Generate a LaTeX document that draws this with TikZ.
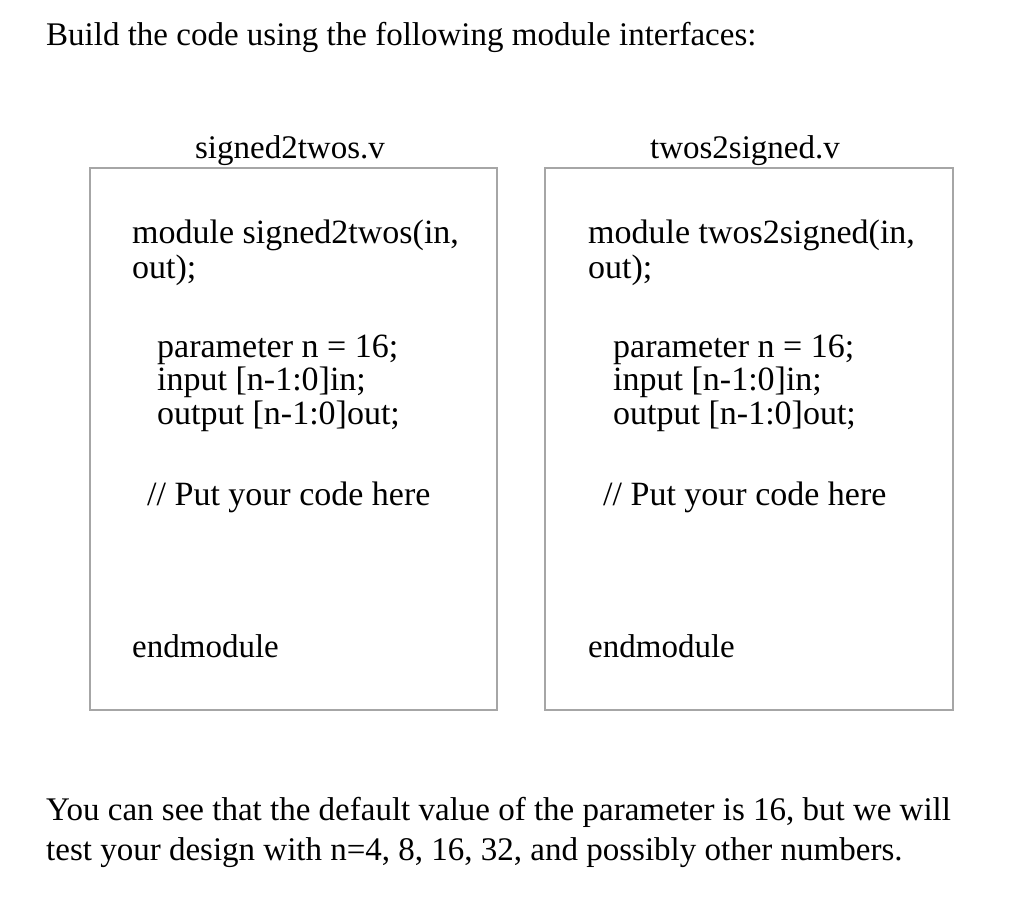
\documentclass[tikz,border=0pt]{standalone}
\usepackage{fontspec}
\setmainfont{Liberation Serif}
\begin{document}
\begin{tikzpicture}[x=1pt,y=-1pt,
 t/.style={anchor=base west,inner sep=0pt,font=\fontsize{33}{38}\selectfont},
 k/.style={anchor=base west,inner sep=0pt,font=\fontsize{34}{38}\selectfont},
 c/.style={anchor=base,inner sep=0pt,font=\fontsize{33}{38}\selectfont},
 box/.style={draw=gray!70,line width=1.5pt}]
\useasboundingbox (0,0) rectangle (1024,902);
\node[t] (title) at (46,45) {Build the code using the following module interfaces:};
\node[c] (h1) at (290,158) {signed2twos.v};
\node[c] (h2) at (745,158) {twos2signed.v};
\draw[box] (90,168) rectangle (497,710);
\draw[box] (545,168) rectangle (953,710);
\foreach \x/\nm/\k in {132/signed2twos/a,588/twos2signed/b}{
 \node[k] (m\k) at (\x,243) {module \nm(in,};
 \node[k] (o\k) at (\x,278) {out);};
 \node[k] (p\k) at (\x+25,357) {parameter n = 16;};
 \node[k] (i\k) at (\x+25,390) {input [n-1:0]in;};
 \node[k] (q\k) at (\x+25,424) {output [n-1:0]out;};
 \node[k] (c\k) at (\x+15,505) {// Put your code here};
 \node[t] (e\k) at (\x,657) {endmodule};
}
\node[t] (b1) at (46,820) {You can see that the default value of the parameter is 16, but we will};
\node[t] (b2) at (46,860) {test your design with n=4, 8, 16, 32, and possibly other numbers.};
\end{tikzpicture}
\end{document}
